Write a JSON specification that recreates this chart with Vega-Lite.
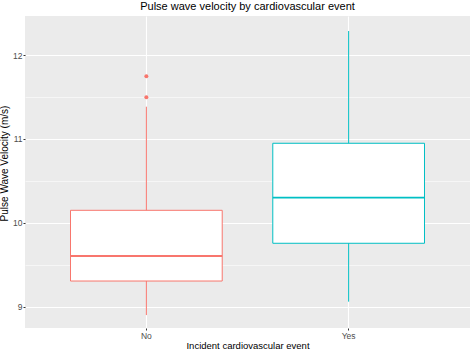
{
  "$schema": "https://vega.github.io/schema/vega-lite/v6.json",
  "autosize": "none",
  "width": 445,
  "height": 312,
  "padding": {"left": 25, "top": 16, "right": 4, "bottom": 23},
  "title": {"text": "Pulse wave velocity by cardiovascular event", "fontSize": 11, "font": "Liberation Sans", "fontWeight": "normal", "color": "#000000", "offset": 4},
  "config": {
    "view": {"fill": "#EBEBEB", "stroke": null},
    "font": "Liberation Sans"
  },
  "datasets": {
    "boxes": [
      {"event": "No", "lower": 8.90, "q1": 9.306, "median": 9.604, "q3": 10.149, "upper": 11.384},
      {"event": "Yes", "lower": 9.06, "q1": 9.756, "median": 10.30, "q3": 10.948, "upper": 12.286}
    ],
    "outliers": [
      {"event": "No", "value": 11.496},
      {"event": "No", "value": 11.746}
    ]
  },
  "encoding": {
    "x": {
      "field": "event", "type": "nominal",
      "scale": {"domain": ["No", "Yes"], "paddingInner": 0.25, "paddingOuter": 0.225},
      "axis": {
        "title": "Incident cardiovascular event", "titleFontSize": 9.5, "titleFontWeight": "normal", "titleColor": "#000000", "titlePadding": 1,
        "labelFontSize": 8.5, "labelColor": "#4D4D4D", "labelAngle": 0, "labelPadding": 1,
        "tickColor": "#333333", "tickSize": 2, "domain": false,
        "grid": true, "bandPosition": 0.5, "gridColor": "#FFFFFF", "gridWidth": 1.1
      }
    }
  },
  "layer": [
    {
      "data": {"name": "boxes"},
      "mark": {"type": "rule", "strokeWidth": 1},
      "encoding": {
        "y": {
          "field": "lower", "type": "quantitative",
          "scale": {"domain": [8.746, 12.465], "nice": false, "zero": false},
          "axis": {
            "title": "Pulse Wave Velocity (m/s)", "titleFontSize": 10, "titleFontWeight": "normal", "titleColor": "#000000", "titlePadding": 3, "titleY": 147,
            "values": [9, 9.5, 10, 10.5, 11, 11.5, 12],
            "labelExpr": "datum.value % 1 === 0 ? format(datum.value, 'd') : ''",
            "labelFontSize": 8.5, "labelColor": "#4D4D4D", "labelPadding": 1,
            "tickColor": "#333333", "tickSize": 2,
            "tickOpacity": {"condition": {"test": "datum.value % 1 !== 0", "value": 0}, "value": 1},
            "domain": false, "grid": true, "gridColor": "#FFFFFF",
            "gridWidth": {"condition": {"test": "datum.value % 1 !== 0", "value": 0.55}, "value": 1.1}
          }
        },
        "y2": {"field": "upper"},
        "color": {"field": "event", "type": "nominal", "scale": {"domain": ["No", "Yes"], "range": ["#F8766D", "#00BFC4"]}, "legend": null}
      }
    },
    {
      "data": {"name": "boxes"},
      "mark": {"type": "bar", "fill": "#FFFFFF", "strokeWidth": 1},
      "encoding": {
        "y": {"field": "q1", "type": "quantitative"},
        "y2": {"field": "q3"},
        "stroke": {"field": "event", "type": "nominal", "scale": {"domain": ["No", "Yes"], "range": ["#F8766D", "#00BFC4"]}, "legend": null}
      }
    },
    {
      "data": {"name": "boxes"},
      "mark": {"type": "bar", "fill": "#FFFFFF", "strokeWidth": 1.8},
      "encoding": {
        "y": {"field": "median", "type": "quantitative"},
        "y2": {"field": "median"},
        "stroke": {"field": "event", "type": "nominal", "scale": {"domain": ["No", "Yes"], "range": ["#F8766D", "#00BFC4"]}, "legend": null}
      }
    },
    {
      "data": {"name": "outliers"},
      "mark": {"type": "circle", "size": 16, "opacity": 1},
      "encoding": {
        "y": {"field": "value", "type": "quantitative"},
        "color": {"field": "event", "type": "nominal", "scale": {"domain": ["No", "Yes"], "range": ["#F8766D", "#00BFC4"]}, "legend": null}
      }
    }
  ]
}
